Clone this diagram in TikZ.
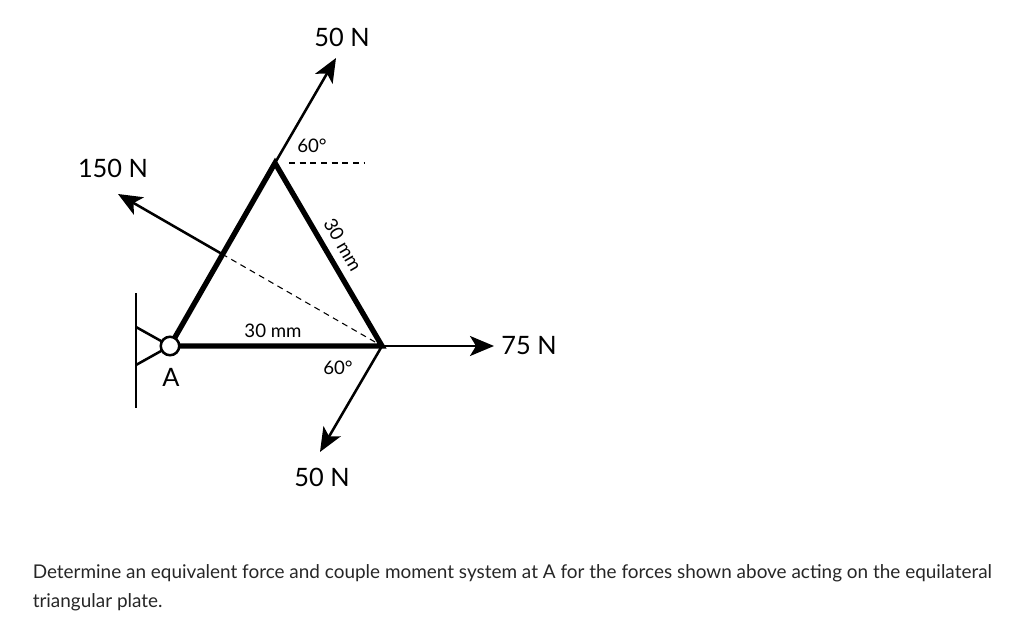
\documentclass[tikz,border=0pt]{standalone}
\usepackage{fontspec}
\setmainfont{Lato}
\usetikzlibrary{arrows.meta}

\begin{document}
\begin{tikzpicture}[x=0.75pt, y=-0.75pt,
	plate/.style={line width=4pt, line cap=round},
	force/.style={line width=1.9pt, -{Stealth[length=18pt, width=15pt, inset=4.5pt]}},
	thin line/.style={line width=1.9pt},
	guide/.style={line width=0.8pt, dash pattern=on 4.5pt off 3.5pt},
	big/.style={font=\fontsize{19}{23}\selectfont, inner sep=0pt},
	small/.style={font=\fontsize{14}{17}\selectfont, inner sep=0pt},
	]
	\useasboundingbox (0, 0) rectangle (1024, 620);
	
	% Corners of the plate
	\coordinate (A) at (170, 346);
	\coordinate (top) at (275, 163);
	\coordinate (right) at (382, 346);
	\coordinate (mid) at (222, 254);
	
	% Free ends
	\coordinate (tipTop) at (336, 58);
	\coordinate (tipLeft) at (118, 194);
	\coordinate (tipRight) at (494, 346);
	\coordinate (tipBottom) at (320, 452);
	\coordinate (guideEnd) at (364, 163);
	\coordinate (guideStart) at (289, 163);
	\coordinate (wallTop) at (136, 293);
	\coordinate (wallBottom) at (136, 408);
	\coordinate (wallUpper) at (136, 327);
	\coordinate (wallLower) at (136, 365);
	
	% Dashed lines
	\draw[guide] (guideStart) -- (guideEnd);
	\draw[guide] (mid) -- (right);
	
	% Forces
	\draw[force] (top) -- (tipTop);
	\draw[force] (mid) -- (tipLeft);
	\draw[force] (right) -- (tipRight);
	\draw[force] (right) -- (tipBottom);
	
	% Plate
	\draw[plate] (top) -- (A) -- (right) -- cycle;
	
	% Support at A
	\draw[thin line] (wallTop) -- (wallBottom);
	\draw[thin line] (wallUpper) -- (A) -- (wallLower);
	\node[circle, draw, fill=white, line width=1.9pt, minimum size=18.5*0.75pt, inner sep=0pt] (pin) at (A) {};
	
	% Labels
	\node[big] (labelTop) at (342, 37) {50 N};
	\node[big] (labelLeft) at (113, 168) {150 N};
	\node[big] (labelRight) at (529, 346) {75 N};
	\node[big] (labelBottom) at (322, 477) {50 N};
	\node[big] (labelA) at (171, 377) {A};
	\node[small] (angleTop) at (312, 146) {60°};
	\node[small] (angleBottom) at (338, 368) {60°};
	\node[small] (lengthBase) at (273, 331) {30 mm};
	\node[small, rotate=-60] (lengthSide) at (343, 245) {30 mm};
	
	% Question text
	\node[anchor=base west, inner sep=0pt, font=\fontsize{14.2}{17}\selectfont, text=black!85] (line1) at (32.5, 578) {Determine an equivalent force and couple moment system at A for the forces shown above acting on the equilateral};
	\node[anchor=base west, inner sep=0pt, font=\fontsize{14.2}{17}\selectfont, text=black!85] (line2) at (32.5, 607) {triangular plate.};
\end{tikzpicture}
\end{document}
